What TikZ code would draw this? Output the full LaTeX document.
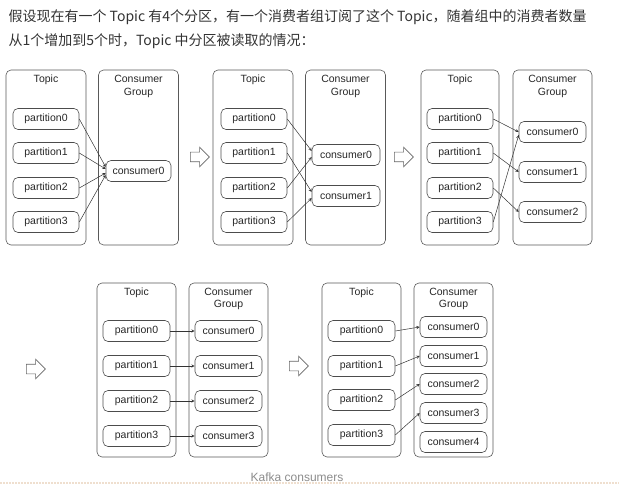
\documentclass[tikz,border=0pt]{standalone}
\usepackage{fontspec}
\setmainfont{Liberation Sans}
\newfontfamily\cjk{Noto Sans CJK SC}
\usetikzlibrary{arrows,shapes.arrows}

\begin{document}
\begin{tikzpicture}[x=1pt, y=-1pt, >=stealth,
                    every node/.style={font=\fontsize{10.5}{12.5}\selectfont, text=black!85},
                    group/.style={draw=black!65, rounded corners=5pt, line width=0.6pt,
                                  minimum width=80pt, minimum height=175pt},
                    part/.style={draw=black!70, rounded corners=5pt, line width=0.6pt,
                                 minimum width=66pt, minimum height=21pt, inner sep=0pt},
                    next/.style={single arrow, draw=black!60, fill=white, line width=0.6pt,
                                 minimum height=19pt, inner xsep=0pt, inner ysep=4.5pt,
                                 single arrow head extend=5pt},
                    every edge/.style={draw, black!80, line width=0.5pt}]
\useasboundingbox (0,0) rectangle (619,484);

\node[anchor=west, font=\cjk\fontsize{14}{16}\selectfont, text=black!80] (t1) at (5,17)
  {假设现在有一个 Topic 有4个分区，有一个消费者组订阅了这个 Topic，随着组中的消费者数量};
\node[anchor=west, font=\cjk\fontsize{14}{16}\selectfont, text=black!80] (t2) at (5,41)
  {从1个增加到5个时，Topic 中分区被读取的情况：};

% 1 consumer
\node[group] (ta) at (46,157.5) {};
\node[group] (ga) at (138.5,157.5) {};
\node (tal) at (46,80) {Topic};
\node[align=center] (gal) at (138.5,86.5) {Consumer\\Group};
\node[part] (a0) at (46,119) {partition0};
\node[part] (a1) at (46,153) {partition1};
\node[part] (a2) at (46,188) {partition2};
\node[part] (a3) at (46,222) {partition3};
\node[part, minimum width=65pt] (ac0) at (138.5,171) {consumer0};
\path[->]
(a0.east) edge ([yshift=4pt]ac0.west)
(a1.east) edge ([yshift=2pt]ac0.west)
(a2.east) edge ([yshift=-2pt]ac0.west)
(a3.east) edge ([yshift=-4pt]ac0.west);

\node[next] (n1) at (197.5,157) {};

% 2 consumers
\node[group] (tb) at (253,157.5) {};
\node[group] (gb) at (345.5,157.5) {};
\node (tbl) at (253,80) {Topic};
\node[align=center] (gbl) at (345.5,86.5) {Consumer\\Group};
\node[part] (b0) at (254,119) {partition0};
\node[part] (b1) at (254,153) {partition1};
\node[part] (b2) at (254,188) {partition2};
\node[part] (b3) at (254,222) {partition3};
\node[part, minimum width=68pt] (bc0) at (346,155) {consumer0};
\node[part, minimum width=68pt] (bc1) at (346,196) {consumer1};
\path[->]
(b0.east) edge ([yshift=4pt]bc0.west)
(b2.east) edge ([yshift=-2pt]bc0.west)
(b1.east) edge ([yshift=4pt]bc1.west)
(b3.east) edge ([yshift=-2pt]bc1.west);

\node[next] (n2) at (401.5,157) {};

% 3 consumers
\node[group, minimum width=78pt] (tc) at (460,157.5) {};
\node[group, minimum width=79pt] (gc) at (552.5,157.5) {};
\node (tcl) at (460,80) {Topic};
\node[align=center] (gcl) at (552.5,86.5) {Consumer\\Group};
\node[part] (c0) at (460,119) {partition0};
\node[part] (c1) at (460,153) {partition1};
\node[part] (c2) at (460,188) {partition2};
\node[part] (c3) at (460,222) {partition3};
\node[part, minimum width=67pt] (cc0) at (552.5,132) {consumer0};
\node[part, minimum width=67pt] (cc1) at (552.5,172) {consumer1};
\node[part, minimum width=67pt] (cc2) at (552.5,212) {consumer2};
\path[->]
(c0.east) edge (cc0.west)
(c1.east) edge (cc1.west)
(c2.east) edge (cc2.west)
(c3.east) edge ([yshift=-3pt]cc0.west);

\node[next] (n3) at (33.5,369) {};

% 4 consumers
\node[group, minimum width=79pt, minimum height=174pt] (td) at (136.5,370) {};
\node[group, minimum width=79pt, minimum height=174pt] (gd) at (228.5,370) {};
\node (tdl) at (136.5,293) {Topic};
\node[align=center] (gdl) at (228.5,299) {Consumer\\Group};
\node[part, minimum width=67pt] (d0) at (136.5,331) {partition0};
\node[part, minimum width=67pt] (d1) at (136.5,366) {partition1};
\node[part, minimum width=67pt] (d2) at (136.5,401) {partition2};
\node[part, minimum width=67pt] (d3) at (136.5,436) {partition3};
\node[part, minimum width=67pt] (dc0) at (228.5,331) {consumer0};
\node[part, minimum width=67pt] (dc1) at (228.5,366) {consumer1};
\node[part, minimum width=67pt] (dc2) at (228.5,401) {consumer2};
\node[part, minimum width=67pt] (dc3) at (228.5,436) {consumer3};
\path[->]
(d0) edge (dc0)
(d1) edge (dc1)
(d2) edge (dc2)
(d3) edge (dc3);

\node[next] (n4) at (296.5,366) {};

% 5 consumers
\node[group, minimum width=79pt, minimum height=174pt] (te) at (361.5,370) {};
\node[group, minimum width=79pt, minimum height=174pt] (ge) at (453.5,370) {};
\node (tel) at (361.5,293) {Topic};
\node[align=center] (gel) at (453.5,299) {Consumer\\Group};
\node[part, minimum width=67pt] (e0) at (361.5,331) {partition0};
\node[part, minimum width=67pt] (e1) at (361.5,366) {partition1};
\node[part, minimum width=67pt] (e2) at (361.5,400) {partition2};
\node[part, minimum width=67pt] (e3) at (361.5,435) {partition3};
\node[part, minimum width=67pt] (ec0) at (453.5,327) {consumer0};
\node[part, minimum width=67pt] (ec1) at (453.5,356) {consumer1};
\node[part, minimum width=67pt] (ec2) at (453.5,384) {consumer2};
\node[part, minimum width=67pt] (ec3) at (453.5,413) {consumer3};
\node[part, minimum width=67pt] (ec4) at (453.5,442) {consumer4};
\path[->]
(e0.east) edge (ec0.west)
(e1.east) edge (ec1.west)
(e2.east) edge (ec2.west)
(e3.east) edge (ec3.west);

\node[font=\fontsize{12}{14}\selectfont, text=black!45] (cap) at (297,477.5) {Kafka consumers};
\draw[brown!25, line width=2pt, dash pattern=on 2pt off 1pt] (0,483) -- (619,483);
\end{tikzpicture}
\end{document}
